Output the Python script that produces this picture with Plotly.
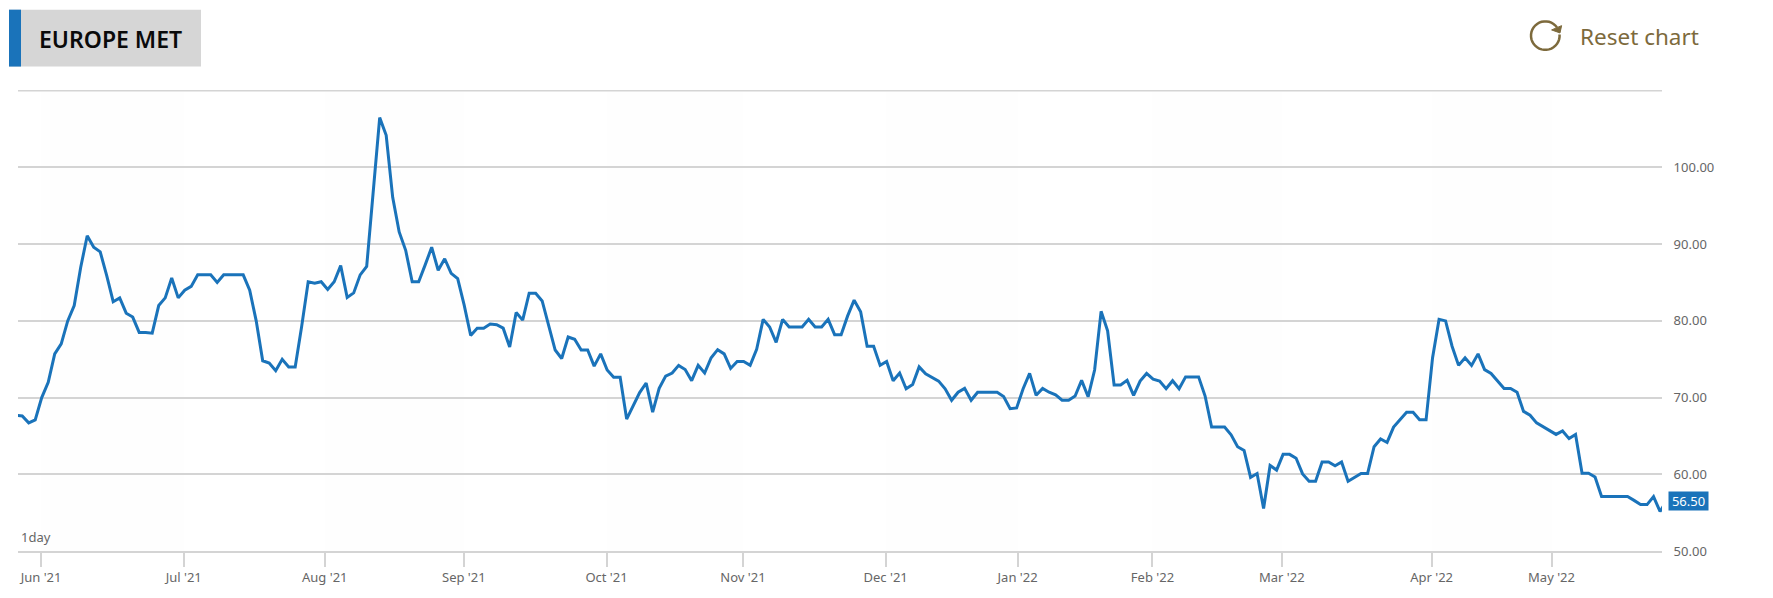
import math
import plotly.graph_objects as go

# daily price (last point sits just past the right edge)
price = [
    67.7, 67.6, 66.7, 67.1, 70.0, 72.0, 75.7, 77.0, 80.0, 82.0,
    87.0, 91.1, 89.6, 89.0, 85.9, 82.5, 83.0, 81.0, 80.5, 78.5,
    78.5, 78.4, 82.0, 83.0, 85.6, 83.0, 84.0, 84.5, 86.0, 86.0,
    86.0, 85.0, 86.0, 86.0, 86.0, 86.0, 84.0, 80.0, 74.8, 74.5,
    73.5, 75.0, 74.0, 74.0, 79.3, 85.1, 84.9, 85.1, 84.1, 85.1,
    87.2, 83.05, 83.65, 86.0, 87.1, 96.5, 106.5, 104.2, 96.1, 91.6,
    89.2, 85.1, 85.1, 87.3, 89.6, 86.6, 88.1, 86.2, 85.5, 82.05,
    78.1, 79.05, 79.05, 79.6, 79.5, 79.05, 76.6, 81.1, 80.1, 83.6,
    83.6, 82.6, 79.2, 76.2, 75.1, 77.9, 77.6, 76.2, 76.2, 74.1,
    75.7, 73.6, 72.65, 72.65, 67.2, 69.0, 70.65, 71.9, 68.1, 71.2,
    72.8, 73.2, 74.2, 73.65, 72.2, 74.2, 73.2, 75.2, 76.25, 75.7,
    73.8, 74.7, 74.7, 74.2, 76.3, 80.2, 79.2, 77.2, 80.2, 79.2,
    79.2, 79.2, 80.2, 79.2, 79.2, 80.2, 78.2, 78.2, 80.65, 82.7,
    81.2, 76.7, 76.7, 74.2, 74.7, 72.2, 73.2, 71.15, 71.7, 74.0,
    73.1, 72.6, 72.15, 71.15, 69.65, 70.7, 71.2, 69.65, 70.7, 70.7,
    70.7, 70.7, 70.15, 68.55, 68.65, 71.15, 73.15, 70.3, 71.2, 70.7,
    70.35, 69.65, 69.65, 70.2, 72.25, 70.1, 73.6, 81.25, 78.7, 71.65,
    71.65, 72.25, 70.3, 72.15, 73.15, 72.4, 72.15, 71.15, 72.2, 71.15,
    72.7, 72.7, 72.7, 70.2, 66.15, 66.15, 66.15, 65.15, 63.6, 63.1,
    59.6, 60.1, 55.55, 61.15, 60.55, 62.6, 62.6, 62.1, 60.05, 59.1,
    59.1, 61.6, 61.6, 61.1, 61.6, 59.1, 59.6, 60.1, 60.1, 63.6,
    64.6, 64.15, 66.15, 67.2, 68.1, 68.1, 67.1, 67.1, 75.2, 80.2,
    80.0, 76.7, 74.2, 75.2, 74.2, 75.7, 73.65, 73.15, 72.2, 71.2,
    71.2, 70.7, 68.2, 67.7, 66.7, 66.2, 65.65, 65.2, 65.65, 64.65,
    65.2, 60.15, 60.15, 59.65, 57.1, 57.1, 57.1, 57.1, 57.1, 56.6,
    56.05, 56.05, 57.1, 55.15, 56.5,
]
last_price = 56.5

month_labels = ["Jun '21", "Jul '21", "Aug '21", "Sep '21", "Oct '21", "Nov '21",
                "Dec '21", "Jan '22", "Feb '22", "Mar '22", "Apr '22", "May '22"]
month_ticks = [3.9, 25.85, 47.55, 68.95, 90.9, 111.9,
               133.85, 154.15, 174.9, 194.8, 217.85, 236.3]
y_ticks = [50, 60, 70, 80, 90, 100]
y_labels = ["50.00", "60.00", "70.00", "80.00", "90.00", "100.00"]
y_top = 110

BLUE = "#1a73ba"
GRID = "#d4d4d4"
GREY_TEXT = "#666666"
GOLD = "#7d6a3c"
FONT = "Noto Sans"

W, H = 1773, 598
L, R, T, B = 18, 1662, 89.5, 551.5


def px(x):
    return (x - L) / (R - L)


def py(y):
    return (B - y) / (B - T)


fig = go.Figure()
fig.add_trace(go.Scatter(
    x=list(range(len(price))),
    y=price,
    mode="lines",
    line=dict(color=BLUE, width=3),
    hoverinfo="skip",
))

shapes = []
# faint alternating month bands
for i in range(0, len(month_ticks) - 1, 2):
    shapes.append(dict(type="rect", xref="x", yref="paper", layer="below",
                       x0=month_ticks[i], x1=month_ticks[i + 1], y0=0, y1=1,
                       fillcolor="#fefefe", line_width=0))

# unlabelled top gridline
shapes.append(dict(type="line", xref="paper", yref="y", layer="below",
                   x0=0, x1=1, y0=y_top, y1=y_top,
                   line=dict(color=GRID, width=1.5)))

# title box
shapes.append(dict(type="rect", xref="paper", yref="paper",
                   x0=px(9), x1=px(201), y0=py(66), y1=py(9),
                   fillcolor="#d6d6d6", line_width=0))
shapes.append(dict(type="rect", xref="paper", yref="paper",
                   x0=px(9), x1=px(21), y0=py(66), y1=py(9),
                   fillcolor=BLUE, line_width=0))

# reset icon: open circle plus arrow head
cx, cy = 1545.3, 35
pts = []
for a in range(-5, 326, 10):
    t = math.radians(a)
    pts.append((px(cx + 14.3 * math.cos(t)), py(cy + 14.3 * math.sin(t))))
shapes.append(dict(type="path", xref="paper", yref="paper",
                   path="M " + " L ".join(f"{a:.5f},{b:.5f}" for a, b in pts),
                   line=dict(color=GOLD, width=2.5)))
head = [(16.3, -10), (14.7, -2.7), (6.3, -5.7)]
shapes.append(dict(type="path", xref="paper", yref="paper",
                   path="M " + " L ".join(f"{px(cx + a):.5f},{py(cy + b):.5f}" for a, b in head) + " Z",
                   fillcolor=GOLD, line=dict(color=GOLD, width=1)))

annotations = [
    dict(text="EUROPE MET", xref="paper", yref="paper", x=px(36.5), y=py(38.5),
         xanchor="left", yanchor="middle", showarrow=False,
         font=dict(family=FONT, size=23, color="#0a0a0a", weight=600)),
    dict(text="Reset chart", xref="paper", yref="paper", x=px(1578), y=py(35.5),
         xanchor="left", yanchor="middle", showarrow=False,
         font=dict(family=FONT, size=22.5, color=GOLD)),
    dict(text="1day", xref="paper", yref="paper", x=px(18.5), y=py(537),
         xanchor="left", yanchor="middle", showarrow=False,
         font=dict(family=FONT, size=13, color=GREY_TEXT)),
    dict(text=f"{last_price:.2f}", xref="paper", yref="y", x=px(1668), y=last_price,
         xanchor="left", yanchor="middle", showarrow=False, width=39, height=18,
         bgcolor=BLUE, borderpad=0, align="center",
         font=dict(family=FONT, size=13, color="white")),
]

fig.update_layout(
    width=W,
    height=H,
    autosize=False,
    margin=dict(l=L, r=W - R, t=T, b=H - B, pad=0),
    paper_bgcolor="white",
    plot_bgcolor="white",
    showlegend=False,
    shapes=shapes,
    annotations=annotations,
    font=dict(family=FONT, color=GREY_TEXT, size=13),
)
fig.update_xaxes(
    range=[0.35, 253.3],
    tickmode="array",
    tickvals=month_ticks,
    ticktext=month_labels,
    ticks="outside",
    ticklen=14,
    tickwidth=1.5,
    tickcolor=GRID,
    showgrid=False,
    zeroline=False,
    showline=True,
    linecolor=GRID,
    linewidth=1.5,
    tickfont=dict(family=FONT, size=13, color=GREY_TEXT),
)
fig.update_yaxes(
    range=[50, 110.1],
    side="right",
    tickmode="array",
    tickvals=y_ticks,
    ticktext=y_labels,
    ticks="outside",
    ticklen=8,
    tickcolor="rgba(0,0,0,0)",
    showgrid=True,
    gridcolor=GRID,
    gridwidth=1.5,
    zeroline=False,
    showline=False,
    tickfont=dict(family=FONT, size=13, color=GREY_TEXT),
)

fig.write_html("out.html", config={"displayModeBar": False},
               post_script="document.body.style.margin='0';")
